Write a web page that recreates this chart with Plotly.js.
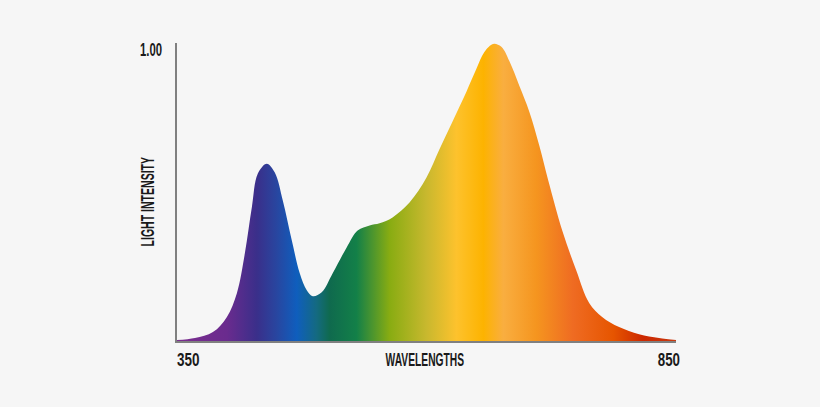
<!DOCTYPE html>
<html>
<head>
<meta charset="utf-8">
<script src="https://cdn.plot.ly/plotly-3.0.1.min.js"></script>
<style>
  html, body { margin: 0; padding: 0; background: #f6f6f6; }
  #chart { width: 820px; height: 407px; }
</style>
</head>
<body>
<div id="chart"></div>
<script>
// spectrum (nm, relative intensity)
var wavelengths = [350, 368, 386, 400, 410, 418, 425, 431, 440, 448, 456, 465, 473, 480, 486, 495,
  506, 520, 531, 543, 553, 566, 583, 600, 613, 626, 640, 650, 658, 667, 675, 683, 693, 703, 713, 722, 736,
  750, 763, 776, 793, 813, 833, 850];
var intensity = [0.003, 0.010, 0.030, 0.081, 0.161, 0.295, 0.450, 0.564, 0.597, 0.567, 0.473, 0.339, 0.228, 0.171, 0.151, 0.164,
  0.228, 0.315, 0.372, 0.389, 0.396, 0.416, 0.466, 0.550, 0.645, 0.738, 0.839, 0.916, 0.973, 1.000, 0.990, 0.942, 0.859, 0.772, 0.658, 0.540, 0.372,
  0.238, 0.128, 0.081, 0.047, 0.023, 0.010, 0.003];

// colour of the fill along the wavelength axis
var stopWavelengths = [350, 400, 430, 450, 470, 490, 503, 530, 563, 600, 630, 657, 677, 710, 747, 787, 817, 850];
var stopColors = ['#7b2d8e', '#6a2b8e', '#3a2f8a', '#2846a0', '#0f5ebd', '#146a80', '#0f6a4e', '#138048',
  '#88ac12', '#c8b82e', '#fdc22d', '#fdb300', '#f9ae40', '#f5951f', '#ef6b22', '#e65500', '#cc2800', '#c83a10'];

var xLabels = ['350', '850'];
var yTopLabel = '1.00';
var xTitle = 'WAVELENGTHS';
var yTitle = 'LIGHT INTENSITY';

var wlMin = stopWavelengths[0];
var wlMax = stopWavelengths[stopWavelengths.length - 1];
var colorscale = stopWavelengths.map(function(w, i){
  return [(w - wlMin) / (wlMax - wlMin), stopColors[i]];
});

var spectrum = {
  x: wavelengths,
  y: intensity,
  type: 'scatter',
  mode: 'lines',
  line: {shape: 'spline', smoothing: 1, width: 0, color: 'rgba(0,0,0,0)'},
  fill: 'tozeroy',
  fillgradient: {type: 'horizontal', colorscale: colorscale, start: wlMin, stop: wlMax},
  hoverinfo: 'skip'
};

var labelFont = {family: '"Liberation Sans", Arial, sans-serif', size: 18, color: '#1a1a1a', weight: 'bold'};

// squeeze factor per label, the original uses a very narrow display face
var squeeze = [0.63, 0.75, 0.74, 0.57, 0.585];

var ann = function(text, x, y, xanchor, extra){
  var a = {text: text, xref: 'paper', yref: 'paper', x: x, y: y,
    xanchor: xanchor, yanchor: 'middle', showarrow: false, font: labelFont};
  for (var k in extra) a[k] = extra[k];
  return a;
};

var layout = {
  width: 820,
  height: 407,
  margin: {l: 177, r: 144, t: 43, b: 66},
  paper_bgcolor: '#f6f6f6',
  plot_bgcolor: '#f6f6f6',
  showlegend: false,
  xaxis: {
    range: [wlMin, wlMax],
    showline: true, linecolor: '#808080', linewidth: 2,
    showgrid: false, zeroline: false, showticklabels: false, ticks: ''
  },
  yaxis: {
    range: [0, 1.003],
    showline: true, linecolor: '#808080', linewidth: 2,
    showgrid: false, zeroline: false, showticklabels: false, ticks: ''
  },
  annotations: [
    ann(yTopLabel, -0.026, 0.978, 'right'),
    ann(xLabels[0], -0.004, -0.064, 'left'),
    ann(xLabels[1], 1.012, -0.064, 'right'),
    ann(xTitle, 0.497, -0.064, 'center'),
    ann(yTitle, -0.058, 0.466, 'center', {textangle: -90})
  ]
};

Plotly.newPlot('chart', [spectrum], layout, {staticPlot: true}).then(function(gd){
  var groups = gd.querySelectorAll('g.annotation');
  groups.forEach(function(g){
    var i = +g.getAttribute('data-index');
    var t = g.querySelector('text.annotation-text');
    if (!t) return;
    var b = t.getBBox();
    var xa = layout.annotations[i].xanchor;
    var cx = xa === 'left' ? b.x : (xa === 'right' ? b.x + b.width : b.x + b.width / 2);
    t.setAttribute('transform', 'translate(' + cx + ',0) scale(' + squeeze[i] + ',1) translate(' + (-cx) + ',0)');
  });
});
</script>
</body>
</html>
